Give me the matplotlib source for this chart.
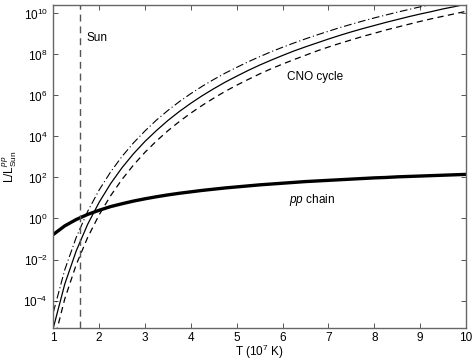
import numpy as np
import matplotlib
matplotlib.use("Agg")
import matplotlib.pyplot as plt

plt.rcParams['font.family'] = ['Liberation Sans', 'DejaVu Sans']
plt.rcParams['mathtext.fontset'] = 'custom'
plt.rcParams['mathtext.rm'] = 'Liberation Sans'
plt.rcParams['mathtext.it'] = 'Liberation Sans:italic'
plt.rcParams['mathtext.bf'] = 'Liberation Sans:bold'

# temperature grid (10^7 K)
T = [1.00, 1.25, 1.50, 1.75, 2.00, 2.25, 2.50, 2.75, 3.00, 3.25, 3.50, 3.75,
     4.00, 4.25, 4.50, 4.75, 5.00, 5.25, 5.50, 5.75, 6.00, 6.25, 6.50, 6.75,
     7.00, 7.25, 7.50, 7.75, 8.00, 8.25, 8.50, 8.75, 9.00, 9.25, 9.50, 9.75, 10.00]
# log10 L/L_Sun^pp
log_pp = [-0.78, -0.36, -0.05, 0.20, 0.40, 0.58, 0.72, 0.85, 0.96, 1.06, 1.15, 1.23,
          1.30, 1.37, 1.43, 1.49, 1.54, 1.59, 1.64, 1.68, 1.72, 1.76, 1.80, 1.83,
          1.86, 1.89, 1.92, 1.95, 1.98, 2.00, 2.03, 2.05, 2.07, 2.09, 2.11, 2.13, 2.15]
log_cno = [-5.34, -3.20, -1.58, -0.28, 0.79, 1.70, 2.48, 3.16, 3.76, 4.29, 4.78, 5.22,
           5.62, 5.99, 6.33, 6.65, 6.94, 7.22, 7.48, 7.72, 7.95, 8.17, 8.37, 8.56,
           8.75, 8.93, 9.10, 9.26, 9.41, 9.56, 9.70, 9.84, 9.97, 10.09, 10.22, 10.33, 10.45]
log_cno_high = [-4.58, -2.50, -0.92, 0.35, 1.39, 2.27, 3.03, 3.69, 4.27, 4.80, 5.27, 5.70,
                6.09, 6.45, 6.78, 7.09, 7.37, 7.64, 7.89, 8.13, 8.35, 8.56, 8.76, 8.95,
                9.13, 9.31, 9.47, 9.63, 9.78, 9.92, 10.06, 10.19, 10.32, 10.44, 10.56, 10.67, 10.78]
log_cno_low = [-6.12, -3.92, -2.25, -0.92, 0.18, 1.11, 1.91, 2.61, 3.23, 3.78, 4.28, 4.73,
               5.14, 5.52, 5.87, 6.20, 6.50, 6.78, 7.05, 7.30, 7.53, 7.75, 7.96, 8.17,
               8.36, 8.54, 8.71, 8.88, 9.03, 9.19, 9.33, 9.47, 9.61, 9.74, 9.86, 9.98, 10.10]
T_sun = 1.58
ytick_exp = [-4, -2, 0, 2, 4, 6, 8, 10]
xticks = [1, 2, 3, 4, 5, 6, 7, 8, 9, 10]

FS = 8.5

fig = plt.figure(figsize=(4.74, 3.6), dpi=100)
ax = fig.add_axes([53.3/474, 1-328/360, (466-53.3)/474, (328-5)/360])

def tolin(v):
    return [10**x for x in v]

ax.plot(T, tolin(log_cno_high), color='black', lw=0.8, linestyle=(0, (7, 2.5, 1, 2.5)))
ax.plot(T, tolin(log_cno), color='black', lw=0.9)
ax.plot(T, tolin(log_cno_low), color='black', lw=0.9, linestyle=(0, (5, 3.5)))
ax.plot(T, tolin(log_pp), color='black', lw=2.4)
ax.axvline(T_sun, color='#555555', lw=1.0, linestyle=(0, (5, 3.5)))

ax.set_yscale('log')
ax.set_xlim(1, 10)
ax.set_ylim(10**-5.34, 10**10.41)
ax.set_xticks(xticks)
ax.set_xticklabels([str(x) for x in xticks])
ax.set_yticks([10.0**e for e in ytick_exp])
ax.set_yticklabels([r'$10^{%d}$' % e for e in ytick_exp])
ax.minorticks_off()
ax.tick_params(direction='in', length=3.5, width=0.7, color='#555555',
               top=True, right=True, labelsize=FS, pad=4)
ax.tick_params(axis='x', pad=3)
for s in ax.spines.values():
    s.set_color('#666666')
    s.set_linewidth(1.0)

ax.text(1.72, 10**8.8, 'Sun', fontsize=FS, ha='left', va='center')
ax.text(6.71, 10**6.9, 'CNO cycle', fontsize=FS, ha='center', va='center')
ax.text(6.64, 10**0.88, r'$pp$ chain', fontsize=FS, ha='center', va='center')

ax.set_xlabel(r'T (10$^7$ K)', fontsize=FS, labelpad=-1)
ax.set_ylabel(r'L/L$_{\mathrm{Sun}}^{pp}$', fontsize=FS, labelpad=3)

fig.savefig("out.png", dpi=100)
